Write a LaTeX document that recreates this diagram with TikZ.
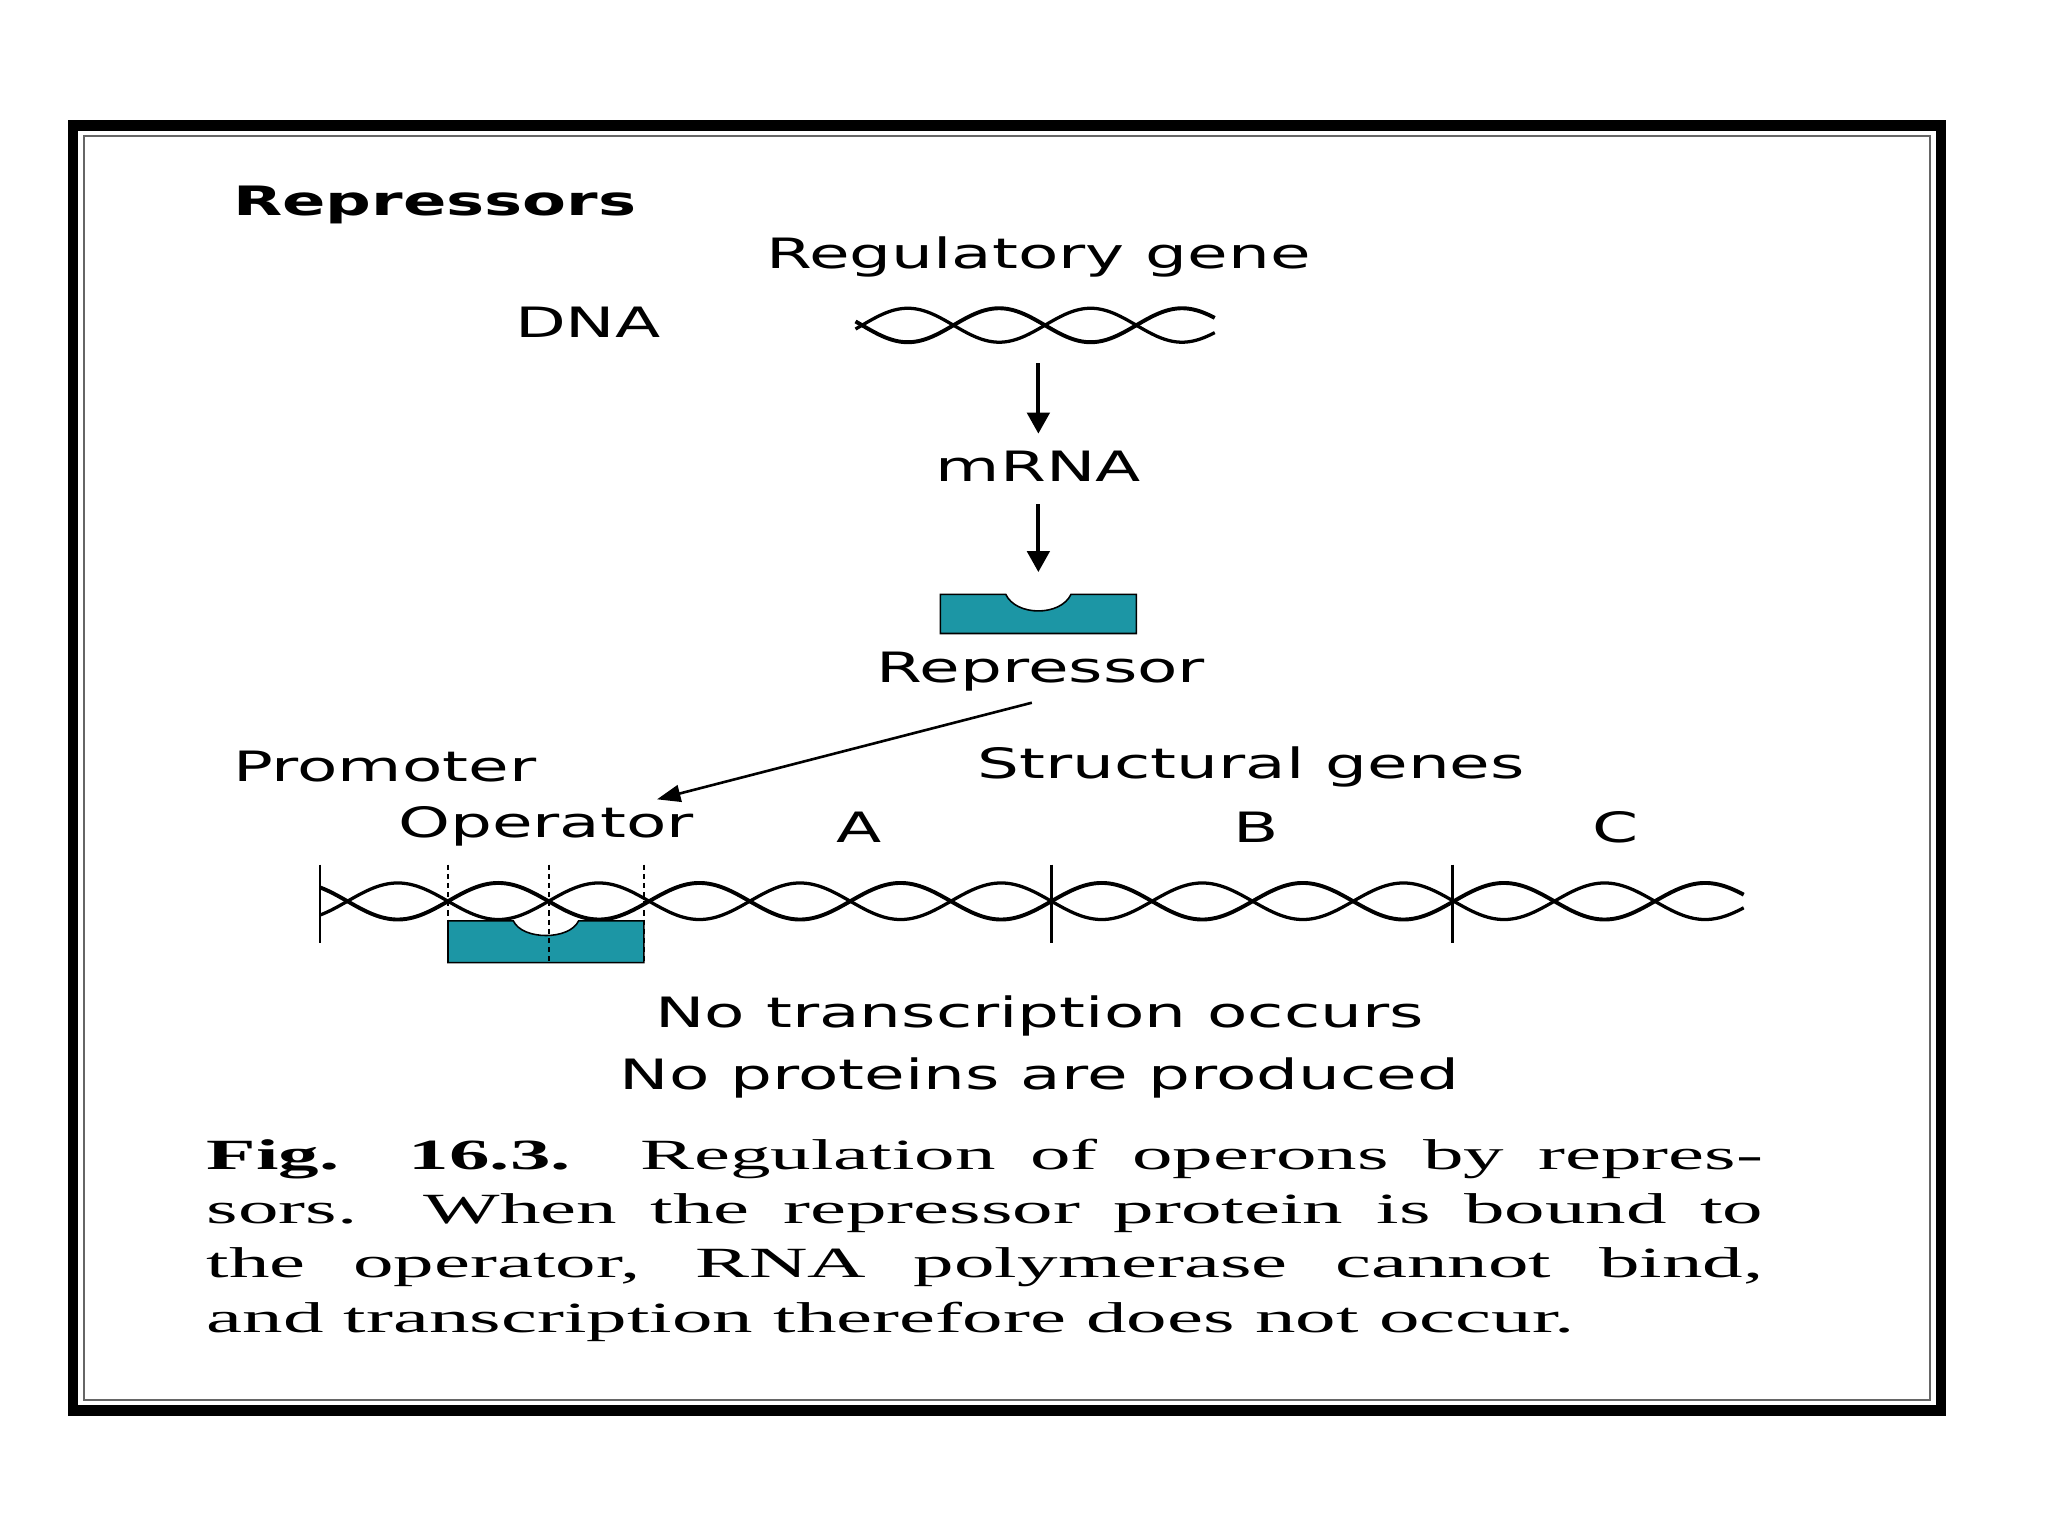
\documentclass[tikz,border=0pt]{standalone}
\usepackage{fontspec}
\usetikzlibrary{arrows.meta}
\setmainfont{Liberation Serif}
\setsansfont{DejaVu Sans}
\definecolor{repc}{RGB}{28,150,165}
\newcommand\sx[1]{\scalebox{1.58}[1]{#1}}
\newcommand\cx[1]{\scalebox{1.88}[1]{\makebox[634pt][s]{#1}}}
\begin{document}
\begin{tikzpicture}[x=1pt,y=-1pt,
  lab/.style={font=\sffamily\fontsize{32}{38}\selectfont},
  arr/.style={line width=3pt,-{Triangle[length=16pt,width=17pt]}},
  rep/.style={fill=repc,draw=black,line width=1.2pt}]
\useasboundingbox[fill=white] (0,0) rectangle (1568,1176);
\draw[line width=8pt] (56,96) rectangle (1486,1080);
\draw[line width=1.5pt,black!60] (64,104) rectangle (1478,1072);
\node[lab,font=\sffamily\bfseries\fontsize{31}{38}\selectfont,anchor=west] (t) at (175,157) {\sx{Repressors}};
\node[lab] (rg) at (795,197) {\sx{Regulatory gene}};
\node[lab] (dna) at (450,247) {\sx{DNA}};
\draw[line width=3pt] plot[domain=655:930,samples=150] (\x,{249+13*sin((\x-660)/140*360)});
\draw[line width=2.5pt] plot[domain=655:930,samples=150] (\x,{249-13*sin((\x-660)/140*360)});
\coordinate (g) at (795,278);
\node[lab] (m) at (795,357) {\sx{mRNA}};
\draw[arr] (g) -- (795,332);
\draw[arr] (795,386) -- (795,438);
\draw[rep] (720,455) -- (770,455) .. controls (778,472) and (812,472) .. (820,455) -- (870,455) -- (870,485) -- (720,485) -- cycle;
\node[lab] (r) at (797,514) {\sx{Repressor}};
\node[lab,anchor=west] (p) at (175,587) {\sx{Promoter}};
\node[lab] (sg) at (958,587) {\sx{Structural genes}};
\node[lab] (op) at (418,633) {\sx{Operator}};
\node[lab] at (658,633) {\sx{A}};
\node[lab] at (962,633) {\sx{B}};
\node[lab] at (1237,633) {\sx{C}};
\coordinate (rt) at (790,538);
\coordinate (ot) at (503,612);
\draw[line width=2pt,-{Triangle[length=18pt,width=13pt]}] (rt) -- (ot);
\draw[line width=3pt] plot[domain=245:1335,samples=400] (\x,{690+14*sin((\x-266)/154*360)});
\draw[line width=2.5pt] plot[domain=245:1335,samples=400] (\x,{690-14*sin((\x-266)/154*360)});
\foreach \x in {245,805,1112} \draw[line width=2pt] (\x,662) -- (\x,722);
\draw[rep] (343,705) -- (393,705) .. controls (400,720) and (436,720) .. (443,705) -- (493,705) -- (493,737) -- (343,737) -- cycle;
\foreach \x in {343,420,493} \draw[line width=1.5pt,dash pattern=on 4pt off 3pt] (\x,662) -- (\x,737);
\node[lab] at (796,778) {\sx{No transcription occurs}};
\node[lab] at (796,825) {\sx{No proteins are produced}};
\node[anchor=north west,inner sep=0pt,align=left,font=\fontsize{33}{41.5}\selectfont] (cap) at (158,872)
{\cx{\textbf{Fig. 16.3.} Regulation of operons by repres-}\\
 \cx{sors. When the repressor protein is bound to}\\
 \cx{the operator, RNA polymerase cannot bind,}\\
 \scalebox{1.88}[1]{and transcription therefore does not occur.}};
\end{tikzpicture}
\end{document}
